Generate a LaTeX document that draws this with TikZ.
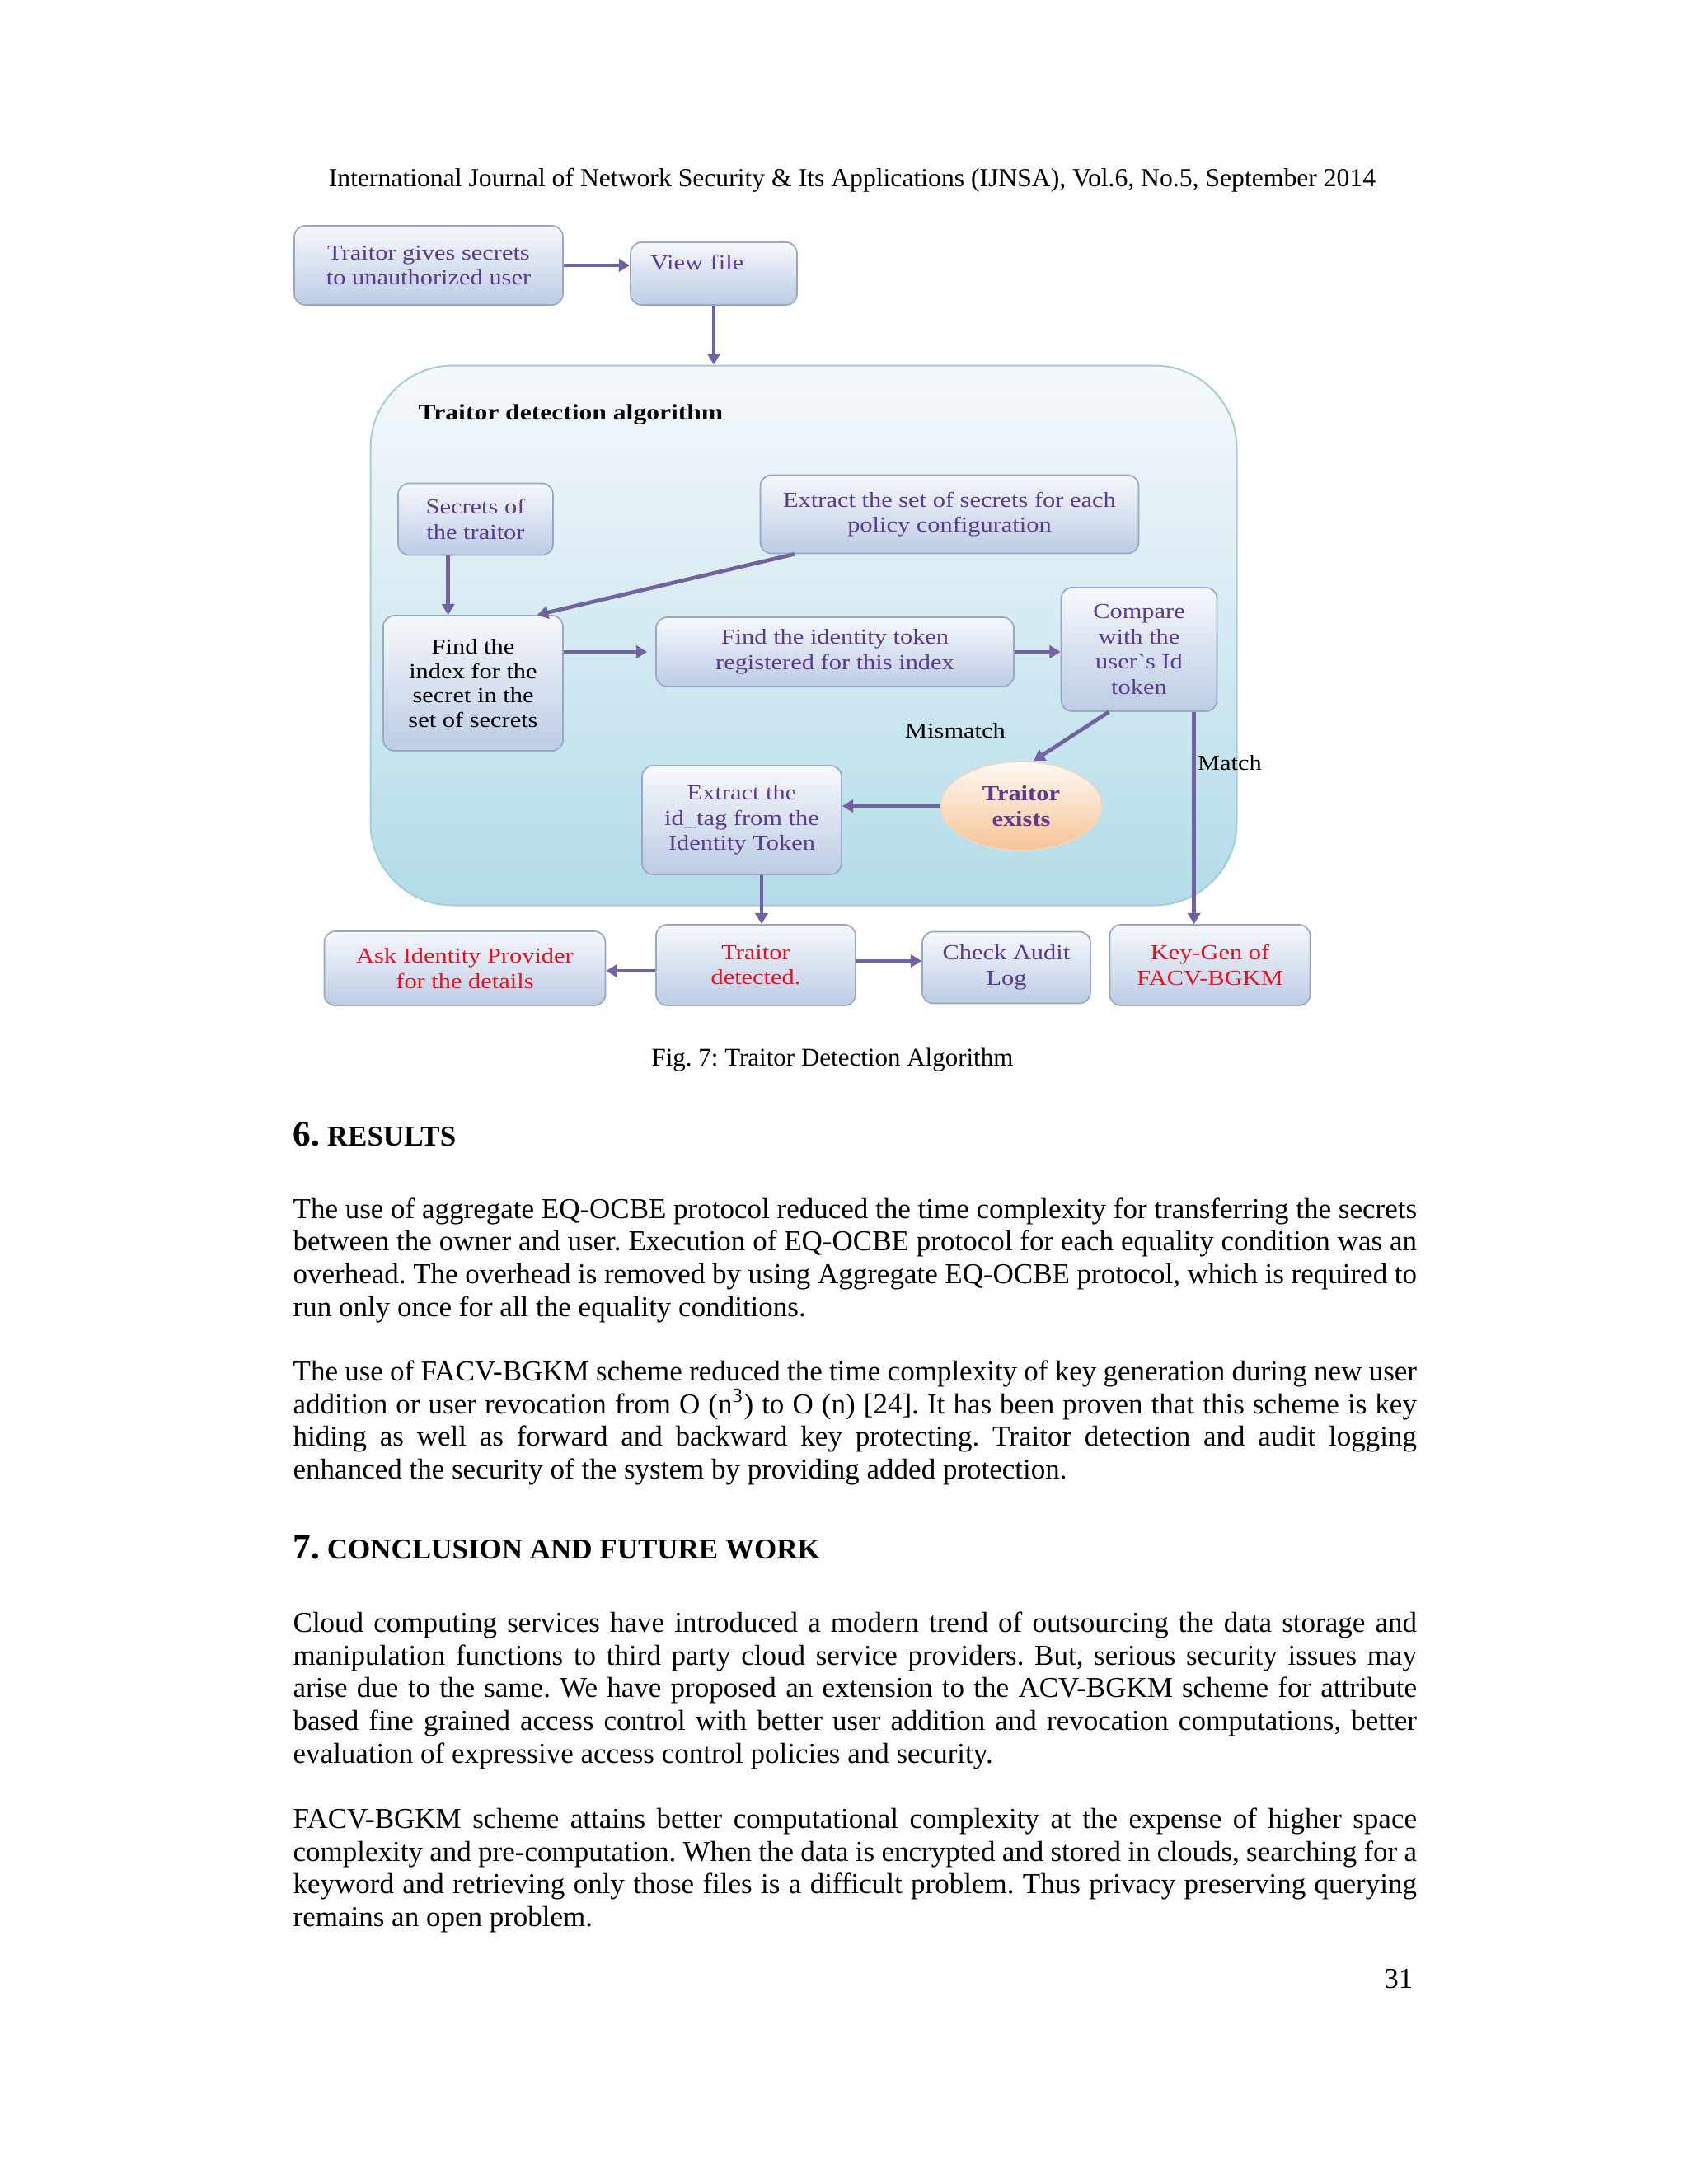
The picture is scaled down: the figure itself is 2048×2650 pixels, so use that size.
\documentclass[tikz,border=0pt]{standalone}
\usepackage{fontspec}
\setmainfont{Liberation Serif}
\newfontfamily\diagfont[FakeStretch=1.17]{Liberation Serif}
\usetikzlibrary{positioning,arrows.meta,shapes.geometric,calc}

\begin{document}
\frenchspacing
\begin{tikzpicture}[x=0.3pt, y=-0.3pt,
      font=\diagfont\fontsize{7.8}{9.2}\selectfont,
      box/.style={rectangle, rounded corners=4pt, draw=tdedge, line width=0.5pt,
        top color=tdtop, bottom color=tdbot, align=center, inner sep=1pt, text=tdpurple},
      flow/.style={-{Triangle[length=4pt, width=4.6pt]}, line width=1.4pt, tdarrow},
      lbl/.style={text=black, inner sep=0pt},
      para/.style={anchor=north west, inner sep=0pt, text width=409pt, align=justify,
        font=\rmfamily\fontsize{10.5}{11.9}\selectfont},
      head/.style={anchor=west, inner sep=0pt, font=\rmfamily\fontsize{10.5}{12}\selectfont\bfseries},
    ]
    \definecolor{tdpurple}{RGB}{92,58,142}
    \definecolor{tdred}{RGB}{228,18,36}
    \definecolor{tdarrow}{RGB}{114,98,160}
    \definecolor{tdedge}{RGB}{150,168,198}
    \definecolor{tdtop}{RGB}{246,248,252}
    \definecolor{tdbot}{RGB}{188,204,228}
    \definecolor{tdframe}{RGB}{165,205,210}
    \definecolor{tdpane}{RGB}{178,220,232}
    \definecolor{tdexist}{RGB}{247,196,150}

    \useasboundingbox (0,0) rectangle (2048,2650);
    \fill[white] (0,0) rectangle (2048,2650);

    % running head
    \node[inner sep=0pt, font=\rmfamily\fontsize{9.5}{11}\selectfont] (runhead) at (1034,219)
      {International Journal of Network Security \& Its Applications (IJNSA), Vol.6, No.5, September 2014};

    % outside the algorithm
    \node[box, minimum width=97.8pt, minimum height=28.8pt] (gives) at (520,322)
      {Traitor gives secrets\\to unauthorized user};
    \node[box, align=left, text width=46.2pt, inner xsep=7.2pt, inner ysep=0pt,
      text height=9.9pt, text depth=12.9pt] (view) at (866,332) {View file};

    % algorithm frame
    \node[rectangle, rounded corners=30pt, draw=tdframe, line width=0.6pt,
      top color=tdtop, bottom color=tdpane, minimum width=315.3pt, minimum height=196.5pt]
      (frame) at (975,771) {};
    \node[anchor=west, inner sep=0pt, font=\diagfont\fontsize{8.1}{10}\selectfont\bfseries] (title) at (507,503)
      {Traitor detection algorithm};

    \node[box, minimum width=56.4pt, minimum height=26.1pt] (secrets) at (577,630)
      {Secrets of\\the traitor};
    \node[box, minimum width=137.7pt, minimum height=28.5pt] (extract) at (1152,624)
      {Extract the set of secrets for each\\policy configuration};
    \node[box, text=black, minimum width=65.4pt, minimum height=49.2pt,
      font=\diagfont\fontsize{7.8}{8.9}\selectfont] (findidx) at (574,829)
      {Find the\\index for the\\secret in the\\set of secrets};
    \node[box, minimum width=130.2pt, minimum height=25.2pt] (findid) at (1013,791)
      {Find the identity token\\registered for this index};
    \node[box, minimum width=56.7pt, minimum height=45pt] (compare) at (1382,788)
      {Compare\\with the\\user`s Id\\token};
    \node[ellipse, draw=tdexist!80!black!40, line width=0.5pt, top color=white!90!tdexist,
      bottom color=tdexist, inner sep=0pt, minimum width=58.8pt, minimum height=32.4pt,
      align=center, text=tdpurple, font=\diagfont\fontsize{7.8}{9.2}\selectfont\bfseries] (exists) at (1239,978)
      {Traitor\\exists};
    \node[box, minimum width=72.6pt, minimum height=39.6pt] (extractid) at (900,995)
      {Extract the\\id\_tag from the\\Identity Token};
    \node[lbl] (mismatch) at (1159,887) {Mismatch};
    \node[lbl] (match) at (1492,926) {Match};

    % results of the algorithm
    \node[box, text=tdred, minimum width=102.3pt, minimum height=27pt] (ask) at (564,1175)
      {Ask Identity Provider\\for the details};
    \node[box, text=tdred, minimum width=72.6pt, minimum height=29.4pt] (detected) at (917,1171)
      {Traitor\\detected.};
    \node[box, minimum width=61.2pt, minimum height=26.1pt] (audit) at (1221,1174)
      {Check Audit\\Log};
    \node[box, text=tdred, minimum width=72.9pt, minimum height=29.4pt] (keygen) at (1468,1171)
      {Key-Gen of\\FACV-BGKM};

    \draw[flow] (gives.east) -- (gives.east -| view.west);
    \draw[flow] (view.south) -- (view.south |- frame.north);
    \draw[flow] ([xshift=-10pt]secrets.south) -- ([xshift=-10pt]secrets.south |- findidx.north);
    \draw[flow] ([xshift=12.6pt]extract.south west) -- ([xshift=-9.6pt]findidx.north east);
    \draw[flow] (findidx.east |- findid.west) -- ([xshift=-3pt]findid.west);
    \draw[flow] (findid.east) -- (findid.east -| compare.west);
    \draw[flow] ([xshift=-11pt]compare.south) -- ([xshift=4.5pt]exists.north);
    \draw[flow] (exists.west) -- (exists.west -| extractid.east);
    \draw[flow] ([xshift=7.2pt]extractid.south) -- ([xshift=7.2pt]extractid.south |- detected.north);
    \draw[flow] ([xshift=20pt]compare.south) -- ([xshift=20pt]compare.south |- keygen.north);
    \draw[flow] ([yshift=-2.1pt]detected.west) -- ([yshift=-2.1pt]detected.west -| ask.east);
    \draw[flow] ([yshift=1.5pt]detected.east) -- ([yshift=1.5pt]detected.east -| audit.west);

    \node[inner sep=0pt, font=\rmfamily\fontsize{9.3}{11}\selectfont] (caption) at (1010,1286)
      {Fig. 7: Traitor Detection Algorithm};

    % text of the page
    \node[head] (results) at (355,1376) {{\fontsize{13}{14}\selectfont 6.} RESULTS};
    \node[para] (parA) at (355,1453)
      {The use of aggregate EQ-OCBE protocol reduced the time complexity for transferring the secrets\linebreak
       between the owner and user. Execution of EQ-OCBE protocol for each equality condition was an\linebreak
       overhead. The overhead is removed by using Aggregate EQ-OCBE protocol, which is required to\linebreak
       run only once for all the equality conditions.};
    \node[para] (parB) at (355,1650)
      {The use of FACV-BGKM scheme reduced the time complexity of key generation during new user\linebreak
       addition or user revocation from O (n\textsuperscript{3}) to O (n) [24]. It has been proven that this scheme is key\linebreak
       hiding as well as forward and backward key protecting. Traitor detection and audit logging\linebreak
       enhanced the security of the system by providing added protection.};
    \node[head] (concl) at (355,1878) {{\fontsize{13}{14}\selectfont 7.} CONCLUSION AND FUTURE WORK};
    \node[para] (parC) at (355,1955)
      {Cloud computing services have introduced a modern trend of outsourcing the data storage and\linebreak
       manipulation functions to third party cloud service providers. But, serious security issues may\linebreak
       arise due to the same. We have proposed an extension to the ACV-BGKM scheme for attribute\linebreak
       based fine grained access control with better user addition and revocation computations, better\linebreak
       evaluation of expressive access control policies and security.};
    \node[para] (parD) at (355,2193)
      {FACV-BGKM scheme attains better computational complexity at the expense of higher space\linebreak
       complexity and pre-computation. When the data is encrypted and stored in clouds, searching for a\linebreak
       keyword and retrieving only those files is a difficult problem. Thus privacy preserving querying\linebreak
       remains an open problem.};
    \node[anchor=east, inner sep=0pt, font=\rmfamily\fontsize{10.5}{12}\selectfont] (pageno) at (1715,2401) {31};
  \end{tikzpicture}
\end{document}
